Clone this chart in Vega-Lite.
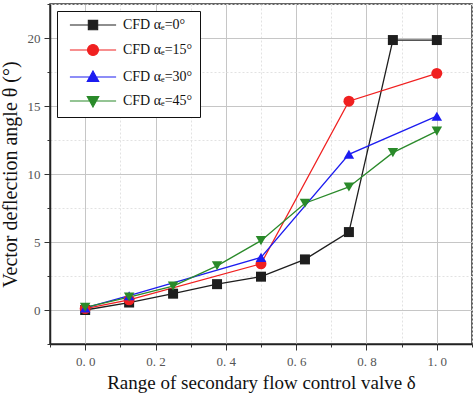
{
  "$schema": "https://vega.github.io/schema/vega-lite/v6.json",
  "width": 422,
  "height": 340,
  "autosize": {"type": "none"},
  "padding": {"left": 50, "top": 4, "right": 2, "bottom": 54},
  "background": "white",
  "config": {
    "view": {"stroke": "#333", "strokeWidth": 1.5},
    "font": "Liberation Serif"
  },
  "data": {
    "values": [
      {"series": "CFD αₑ=0°", "delta": 0.0, "theta": 0.0},
      {"series": "CFD αₑ=0°", "delta": 0.125, "theta": 0.55},
      {"series": "CFD αₑ=0°", "delta": 0.25, "theta": 1.2},
      {"series": "CFD αₑ=0°", "delta": 0.375, "theta": 1.9},
      {"series": "CFD αₑ=0°", "delta": 0.5, "theta": 2.45},
      {"series": "CFD αₑ=0°", "delta": 0.625, "theta": 3.72},
      {"series": "CFD αₑ=0°", "delta": 0.75, "theta": 5.73},
      {"series": "CFD αₑ=0°", "delta": 0.875, "theta": 19.85},
      {"series": "CFD αₑ=0°", "delta": 1.0, "theta": 19.85},
      {"series": "CFD αₑ=15°", "delta": 0.0, "theta": 0.1},
      {"series": "CFD αₑ=15°", "delta": 0.125, "theta": 0.75},
      {"series": "CFD αₑ=15°", "delta": 0.5, "theta": 3.4},
      {"series": "CFD αₑ=15°", "delta": 0.75, "theta": 15.35},
      {"series": "CFD αₑ=15°", "delta": 1.0, "theta": 17.4},
      {"series": "CFD αₑ=30°", "delta": 0.0, "theta": 0.15},
      {"series": "CFD αₑ=30°", "delta": 0.125, "theta": 1.05},
      {"series": "CFD αₑ=30°", "delta": 0.5, "theta": 3.87},
      {"series": "CFD αₑ=30°", "delta": 0.75, "theta": 11.45},
      {"series": "CFD αₑ=30°", "delta": 1.0, "theta": 14.25},
      {"series": "CFD αₑ=45°", "delta": 0.0, "theta": 0.2},
      {"series": "CFD αₑ=45°", "delta": 0.125, "theta": 0.95},
      {"series": "CFD αₑ=45°", "delta": 0.25, "theta": 1.76},
      {"series": "CFD αₑ=45°", "delta": 0.375, "theta": 3.25},
      {"series": "CFD αₑ=45°", "delta": 0.5, "theta": 5.1},
      {"series": "CFD αₑ=45°", "delta": 0.625, "theta": 7.85},
      {"series": "CFD αₑ=45°", "delta": 0.75, "theta": 9.05},
      {"series": "CFD αₑ=45°", "delta": 0.875, "theta": 11.57},
      {"series": "CFD αₑ=45°", "delta": 1.0, "theta": 13.15}
    ]
  },
  "encoding": {
    "x": {
      "field": "delta",
      "type": "quantitative",
      "scale": {"domain": [-0.1, 1.1], "nice": false, "zero": false},
      "axis": {
        "title": "Range of secondary flow control valve δ",
        "values": [-0.1, 0, 0.1, 0.2, 0.3, 0.4, 0.5, 0.6, 0.7, 0.8, 0.9, 1.0, 1.1],
        "labelExpr": "round(datum.value*10) % 2 !== 0 ? '' : replace(format(datum.value, '.1f'), '.', '. ')",
        "labelOverlap": false,
        "labelFlush": false,
        "labelFont": "Liberation Serif",
        "labelFontSize": 13,
        "labelColor": "#555",
        "labelPadding": 5,
        "titleFont": "Liberation Serif",
        "titleFontSize": 19,
        "titleFontWeight": "normal",
        "titleColor": "#111",
        "titlePadding": 5,
        "domainColor": "#222",
        "domainWidth": 1.5,
        "tickColor": "#333",
        "tickSize": {"condition": {"test": "round(datum.value*10) % 2 !== 0", "value": 3}, "value": 6},
        "gridColor": {"condition": {"test": "round(datum.value*10) % 2 !== 0", "value": "#e2e2e2"}, "value": "#c6c6c6"},
        "gridDash": {"condition": {"test": "round(datum.value*10) % 2 !== 0", "value": [2, 2]}, "value": []}
      }
    },
    "y": {
      "field": "theta",
      "type": "quantitative",
      "scale": {"domain": [-2.5, 22.5], "nice": false, "zero": false},
      "axis": {
        "title": "Vector deflection angle θ (°)",
        "values": [-2.5, 0, 2.5, 5, 7.5, 10, 12.5, 15, 17.5, 20, 22.5],
        "labelExpr": "round(datum.value/2.5) % 2 !== 0 ? '' : format(datum.value, 'd')",
        "labelOverlap": false,
        "labelFlush": false,
        "labelFont": "Liberation Serif",
        "labelFontSize": 13,
        "labelColor": "#555",
        "labelPadding": 4,
        "titleFont": "Liberation Serif",
        "titleFontSize": 20,
        "titleFontWeight": "normal",
        "titleColor": "#111",
        "titlePadding": 7,
        "domainColor": "#222",
        "domainWidth": 1.5,
        "tickColor": "#333",
        "tickSize": {"condition": {"test": "round(datum.value/2.5) % 2 !== 0", "value": 3}, "value": 6},
        "gridColor": {"condition": {"test": "round(datum.value/2.5) % 2 !== 0", "value": "#e2e2e2"}, "value": "#c6c6c6"},
        "gridDash": {"condition": {"test": "round(datum.value/2.5) % 2 !== 0", "value": [2, 2]}, "value": []}
      }
    }
  },
  "layer": [
    {"transform": [{"filter": "datum.series === 'CFD αₑ=0°'"}], "mark": {"type": "line", "strokeWidth": 1.3, "color": "#1e1e1e"}},
    {"transform": [{"filter": "datum.series === 'CFD αₑ=15°'"}], "mark": {"type": "line", "strokeWidth": 1.3, "color": "#f02020"}},
    {"transform": [{"filter": "datum.series === 'CFD αₑ=30°'"}], "mark": {"type": "line", "strokeWidth": 1.3, "color": "#1c1cf0"}},
    {"transform": [{"filter": "datum.series === 'CFD αₑ=45°'"}], "mark": {"type": "line", "strokeWidth": 1.3, "color": "#2a8a2a"}},
    {"transform": [{"filter": "datum.series === 'CFD αₑ=0°'"}], "mark": {"type": "point", "shape": "square", "filled": true, "opacity": 1, "size": 100, "color": "#1e1e1e"}},
    {"transform": [{"filter": "datum.series === 'CFD αₑ=15°'"}], "mark": {"type": "point", "shape": "circle", "filled": true, "opacity": 1, "size": 120, "color": "#f02020"}},
    {"transform": [{"filter": "datum.series === 'CFD αₑ=30°'"}], "mark": {"type": "point", "shape": "triangle-up", "filled": true, "opacity": 1, "size": 110, "color": "#1c1cf0"}},
    {"transform": [{"filter": "datum.series === 'CFD αₑ=45°'"}], "mark": {"type": "point", "shape": "triangle-down", "filled": true, "opacity": 1, "size": 110, "color": "#2a8a2a"}},
    {
      "transform": [{"filter": "false"}],
      "mark": {"type": "point", "filled": true, "opacity": 1, "strokeWidth": 1.1},
      "encoding": {
        "color": {
          "field": "series", "type": "nominal",
          "scale": {"domain": ["CFD αₑ=0°", "CFD αₑ=15°", "CFD αₑ=30°", "CFD αₑ=45°"], "range": ["#1e1e1e", "#f02020", "#1c1cf0", "#2a8a2a"]},
          "legend": {
            "title": null, "orient": "top-left", "offset": 7,
            "strokeColor": "#111", "fillColor": "white", "padding": 7, "rowPadding": 10,
            "labelFont": "Liberation Serif", "labelFontSize": 14, "labelColor": "#111",
            "symbolSize": 121, "symbolStrokeWidth": 1.1, "symbolOffset": 22, "labelOffset": 23, "labelLimit": 200
          }
        },
        "stroke": {
          "field": "series", "type": "nominal",
          "scale": {"domain": ["CFD αₑ=0°", "CFD αₑ=15°", "CFD αₑ=30°", "CFD αₑ=45°"], "range": ["#1e1e1e", "#f02020", "#1c1cf0", "#2a8a2a"]},
          "legend": {
            "title": null, "orient": "top-left", "offset": 7,
            "strokeColor": "#111", "fillColor": "white", "padding": 7, "rowPadding": 10,
            "labelFont": "Liberation Serif", "labelFontSize": 14, "labelColor": "#111",
            "symbolSize": 121, "symbolStrokeWidth": 1.1, "symbolOffset": 22, "labelOffset": 23, "labelLimit": 200
          }
        },
        "shape": {
          "field": "series", "type": "nominal",
          "scale": {
            "domain": ["CFD αₑ=0°", "CFD αₑ=15°", "CFD αₑ=30°", "CFD αₑ=45°"],
            "range": [
              "M-4.2,0H4.2M-0.85,-0.85H0.85V0.85H-0.85Z",
              "M-4.2,0H4.2M1.0,0A1.0,1.0,0,1,1,-1.0,0A1.0,1.0,0,1,1,1.0,0Z",
              "M-4.2,0H4.2M0,-1.1L1.05,0.8H-1.05Z",
              "M-4.2,0H4.2M0,1.1L1.05,-0.8H-1.05Z"
            ]
          },
          "legend": {
            "title": null, "orient": "top-left", "offset": 7,
            "strokeColor": "#111", "fillColor": "white", "padding": 7, "rowPadding": 10,
            "labelFont": "Liberation Serif", "labelFontSize": 14, "labelColor": "#111",
            "symbolSize": 121, "symbolStrokeWidth": 1.1, "symbolOffset": 22, "labelOffset": 23, "labelLimit": 200
          }
        }
      }
    }
  ]
}
